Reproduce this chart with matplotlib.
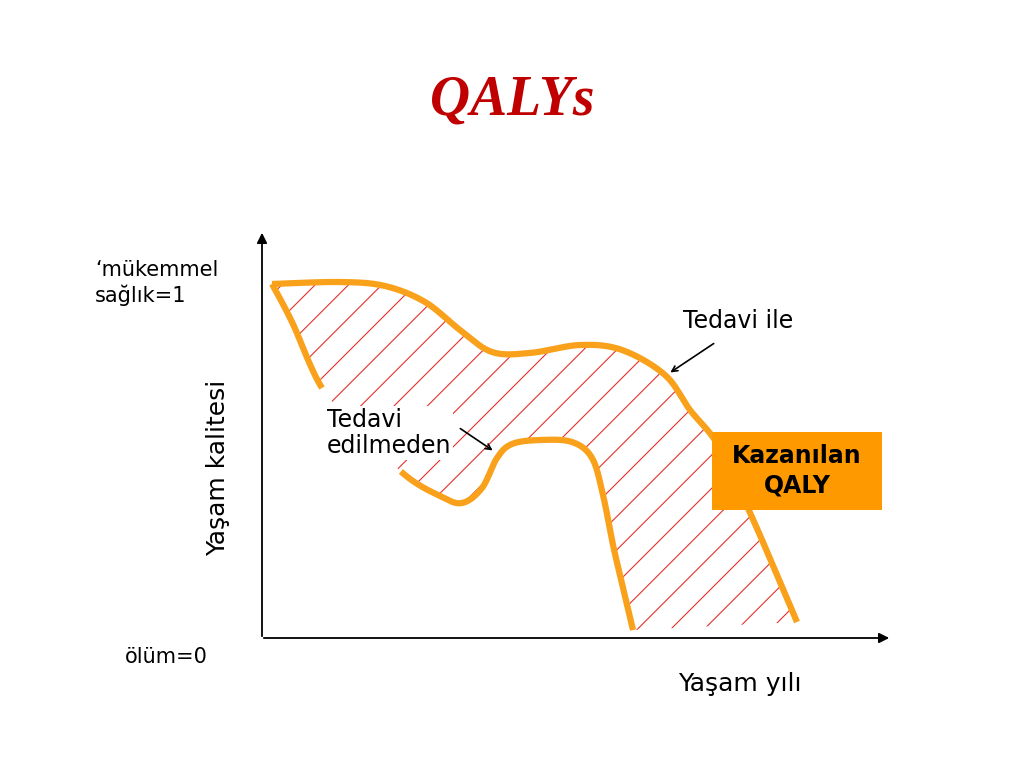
import numpy as np
import matplotlib
matplotlib.use("Agg")
import matplotlib.pyplot as plt
from matplotlib.patches import Polygon, Rectangle

plt.rcParams["hatch.linewidth"] = 0.8

# curve shapes in pixel coordinates of the slide (x right, y down)
treated_x = [272, 340, 385, 425, 460, 492, 530, 580, 622, 665, 690, 718, 748, 774, 797]
treated_y = [284, 282, 286, 302, 330, 352, 353, 345, 350, 375, 410, 445, 508, 568, 622]
untreated_x = [272, 292, 322, 360, 405, 440, 462, 482, 497, 512, 540, 572, 592, 603, 613, 624, 633]
untreated_y = [284, 322, 388, 430, 475, 496, 503, 488, 458, 444, 440, 442, 458, 495, 545, 592, 630]

ORANGE = "#F9A11B"
RED = "#E8302A"


def smooth(xs, ys, n=20):
    p = np.column_stack([xs, ys]).astype(float)
    p = np.vstack([p[0], p, p[-1]])
    out = []
    for i in range(1, len(p) - 2):
        p0, p1, p2, p3 = p[i - 1], p[i], p[i + 1], p[i + 2]
        for t in np.linspace(0, 1, n, endpoint=False):
            out.append(0.5 * (2 * p1 + (-p0 + p2) * t + (2 * p0 - 5 * p1 + 4 * p2 - p3) * t**2
                              + (-p0 + 3 * p1 - 3 * p2 + p3) * t**3))
    out.append(p[-2])
    return np.array(out)


up = smooth(treated_x, treated_y)
lo = smooth(untreated_x, untreated_y)

fig = plt.figure(figsize=(10.24, 7.68), dpi=100)
ax = fig.add_axes([0, 0, 1, 1])
ax.set_xlim(0, 1024)
ax.set_ylim(768, 0)
ax.axis("off")

# hatched gain region
region = np.vstack([up, [[797, 622], [633, 630]], lo[::-1]])
ax.add_patch(Polygon(region, closed=True, fill=False, edgecolor=RED, hatch="/", lw=0))

ax.plot(up[:, 0], up[:, 1], color=ORANGE, lw=4.5, solid_capstyle="butt")
seg1 = lo[lo[:, 0] <= 322]
seg2 = lo[lo[:, 0] >= 400]
ax.plot(seg1[:, 0], seg1[:, 1], color=ORANGE, lw=4.5, solid_capstyle="butt")
ax.plot(seg2[:, 0], seg2[:, 1], color=ORANGE, lw=4.5, solid_capstyle="butt")

# axes
ax.annotate("", xy=(262, 230), xytext=(262, 639),
            arrowprops=dict(arrowstyle="-|>", color="black", lw=1.3, mutation_scale=15))
ax.annotate("", xy=(892, 638), xytext=(261, 638),
            arrowprops=dict(arrowstyle="-|>", color="black", lw=1.3, mutation_scale=15))

ax.text(512, 100, "QALYs", ha="center", va="center", fontsize=40, color="#C00000",
        family="Liberation Serif", fontweight="bold", style="italic")

font = "DejaVu Sans"
ax.text(95, 283, "‘mükemmel\nsağlık=1", ha="left", va="center", fontsize=15, family=font,
        linespacing=1.3)
ax.text(125, 657, "ölüm=0", ha="left", va="center", fontsize=15, family=font)
ax.text(218, 468, "Yaşam kalitesi", ha="center", va="center", fontsize=18, rotation=90, family=font)
ax.text(740, 684, "Yaşam yılı", ha="center", va="center", fontsize=18, family=font)
ax.text(738, 321, "Tedavi ile", ha="center", va="center", fontsize=17, family=font,
        bbox=dict(facecolor="white", edgecolor="none", pad=1))
ax.text(327, 433, "Tedavi\nedilmeden", ha="left", va="center", fontsize=17, family=font,
        linespacing=1.15, bbox=dict(facecolor="white", edgecolor="none", pad=1))
ax.annotate("", xy=(668, 374), xytext=(716, 342),
            arrowprops=dict(arrowstyle="->", color="black", lw=1.2))
ax.annotate("", xy=(495, 452), xytext=(458, 427),
            arrowprops=dict(arrowstyle="->", color="black", lw=1.2))

ax.add_patch(Rectangle((712, 432), 170, 78, facecolor="#FF9900", edgecolor="none", zorder=5))
ax.text(797, 471, "Kazanılan\nQALY", ha="center", va="center", fontsize=17, family=font,
        fontweight="bold", linespacing=1.3, zorder=6)

fig.savefig("out.png", dpi=100)
